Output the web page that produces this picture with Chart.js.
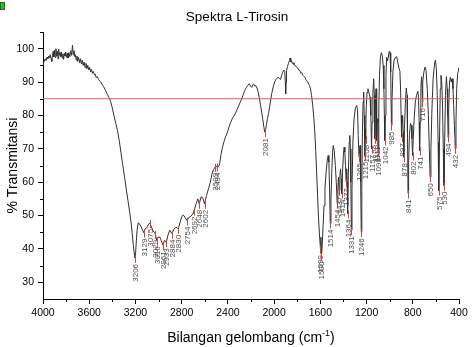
<!DOCTYPE html>
<html>
<head>
<meta charset="utf-8">
<script src="https://cdn.jsdelivr.net/npm/chart.js@4.4.1/dist/chart.umd.min.js"></script>
<style>
  html, body { margin: 0; padding: 0; background: #fff; }
  #wrap { width: 474px; height: 347px; }
</style>
</head>
<body>
<div id="wrap"><canvas id="chart" width="474" height="347"></canvas></div>
<script>
// FTIR spectrum of L-tyrosine
const wavenumber = [
  4000, 3990, 3980, 3972, 3965, 3958, 3950, 3944, 3938, 3930, 3924, 3918, 3912, 3906, 3900, 3894,
  3888, 3882, 3876, 3870, 3864, 3858, 3852, 3846, 3840, 3834, 3828, 3822, 3816, 3810, 3804, 3798,
  3790, 3784, 3776, 3768, 3760, 3752, 3745, 3738, 3732, 3726, 3720, 3712, 3706, 3700, 3692, 3684,
  3676, 3668, 3660, 3652, 3644, 3636, 3628, 3620, 3612, 3604, 3596, 3588, 3580, 3572, 3564, 3556,
  3548, 3540, 3530, 3520, 3505, 3490, 3475, 3460, 3445, 3430, 3415, 3400, 3385, 3370, 3355, 3340,
  3325, 3310, 3295, 3280, 3265, 3250, 3238, 3228, 3218, 3206, 3200, 3194, 3186, 3176, 3166, 3150,
  3138, 3129, 3118, 3105, 3090, 3075, 3062, 3048, 3036, 3029, 3016, 3005, 2990, 2975, 2961, 2948,
  2933, 2918, 2903, 2884, 2866, 2850, 2840, 2830, 2815, 2800, 2786, 2770, 2754, 2738, 2720, 2705,
  2692, 2676, 2660, 2648, 2632, 2618, 2602, 2585, 2568, 2552, 2538, 2524, 2509, 2494, 2480, 2470,
  2460, 2450, 2435, 2420, 2405, 2390, 2375, 2360, 2345, 2330, 2315, 2300, 2285, 2270, 2255, 2240,
  2228, 2215, 2205, 2194, 2186, 2178, 2168, 2157, 2148, 2138, 2128, 2118, 2108, 2098, 2088, 2081,
  2074, 2066, 2058, 2048, 2038, 2028, 2018, 2006, 1994, 1980, 1966, 1952, 1944, 1936, 1926, 1916,
  1908, 1903, 1900, 1897, 1893, 1884, 1876, 1868, 1862, 1856, 1850, 1843, 1836, 1828, 1820, 1812,
  1804, 1795, 1786, 1776, 1768, 1760, 1752, 1744, 1735, 1726, 1718, 1710, 1702, 1694, 1686, 1676,
  1666, 1656, 1648, 1640, 1632, 1624, 1616, 1608, 1599, 1595, 1590, 1584, 1576, 1568, 1560, 1550,
  1540, 1532, 1526, 1520, 1514, 1508, 1500, 1494, 1488, 1480, 1470, 1462, 1454, 1448, 1443, 1437,
  1431, 1425, 1419, 1414, 1408, 1400, 1394, 1388, 1382, 1377, 1372, 1368, 1364, 1358, 1350, 1345,
  1340, 1336, 1331, 1326, 1318, 1308, 1296, 1285, 1278, 1272, 1265, 1260, 1256, 1251, 1246, 1241,
  1236, 1230, 1225, 1220, 1215, 1212, 1208, 1203, 1196, 1188, 1180, 1170, 1163, 1157, 1152, 1145,
  1138, 1133, 1128, 1123, 1118, 1114, 1111, 1106, 1102, 1099, 1094, 1088, 1080, 1072, 1064, 1056,
  1050, 1046, 1042, 1038, 1032, 1026, 1018, 1010, 1004, 997, 991, 985, 980, 972, 962, 950,
  940, 930, 920, 911, 905, 901, 897, 893, 888, 883, 878, 872, 864, 856, 850, 846,
  841, 836, 829, 820, 812, 807, 802, 796, 788, 778, 768, 756, 750, 745, 741, 736,
  730, 724, 719, 716, 712, 704, 694, 685, 675, 665, 657, 650, 643, 634, 624, 612,
  604, 596, 588, 581, 575, 569, 562, 556, 549, 542, 536, 530, 524, 517, 509, 502,
  498, 494, 489, 482, 474, 467, 460, 452, 446, 440, 432, 426, 420, 412, 406, 400
]
const transmittance = [
  95.0, 96.2, 97.0, 96.4, 97.5, 97.0, 97.8, 97.2, 98.2, 97.0, 96.2, 98.0, 99.2, 97.5, 99.6, 97.4,
  100.0, 97.8, 99.2, 97.0, 99.8, 98.0, 98.8, 97.6, 99.0, 97.2, 98.4, 96.8, 98.6, 97.8, 99.0, 97.4,
  98.6, 97.2, 98.8, 97.6, 99.4, 98.0, 101.0, 98.2, 99.4, 97.6, 98.2, 96.6, 97.8, 96.2, 97.4, 95.8,
  97.0, 95.4, 96.6, 95.0, 96.0, 94.4, 95.6, 94.0, 95.0, 93.6, 94.4, 93.0, 93.8, 92.6, 93.2, 92.2,
  92.4, 91.4, 91.6, 90.8, 90.2, 89.4, 88.6, 87.6, 86.4, 85.4, 84.2, 82.2, 79.8, 77.6, 75.4, 72.4,
  68.8, 65.2, 61.8, 58.0, 54.6, 51.0, 48.0, 44.6, 41.0, 37.3, 37.8, 41.5, 45.5, 47.8, 47.6, 46.6,
  45.6, 44.9, 46.0, 46.2, 47.2, 47.8, 46.6, 45.4, 45.0, 44.5, 42.6, 43.4, 43.6, 42.4, 41.1, 42.6,
  42.0, 44.2, 45.6, 44.6, 46.0, 46.5, 46.4, 46.0, 47.8, 49.6, 50.2, 49.4, 48.5, 49.4, 49.8, 50.4,
  51.5, 53.4, 55.0, 53.5, 55.6, 55.4, 53.5, 56.0, 58.0, 60.0, 62.4, 63.8, 64.6, 64.7, 64.6, 65.8,
  68.2, 70.0, 72.0, 73.6, 74.8, 76.6, 78.0, 79.2, 80.0, 81.0, 82.2, 83.4, 84.6, 86.0, 87.4, 88.4,
  89.0, 89.5, 88.8, 88.4, 89.2, 89.4, 88.8, 88.9, 88.2, 87.0, 85.2, 83.2, 81.0, 78.8, 76.4, 75.0,
  75.6, 77.2, 79.0, 80.6, 82.8, 85.0, 87.0, 88.8, 90.2, 91.0, 91.4, 91.0, 90.8, 92.0, 92.9, 93.6,
  93.2, 90.0, 86.4, 90.0, 93.4, 94.6, 95.6, 96.4, 97.2, 96.0, 96.4, 95.6, 95.8, 95.2, 95.0, 94.8,
  94.4, 94.2, 93.6, 93.4, 92.6, 92.8, 92.0, 91.8, 91.6, 90.8, 90.4, 90.2, 89.4, 89.0, 88.0, 86.0,
  83.0, 79.2, 75.0, 69.5, 63.0, 56.0, 49.5, 44.5, 40.0, 43.5, 38.0, 41.0, 47.0, 53.0, 58.0, 63.0,
  66.6, 68.0, 66.0, 58.0, 47.6, 55.0, 64.0, 69.0, 71.0, 69.5, 65.0, 60.0, 53.6, 58.0, 61.5, 57.5,
  62.0, 64.0, 61.0, 56.6, 63.0, 68.5, 70.5, 69.0, 65.0, 60.0, 64.0, 60.0, 50.6, 62.0, 72.0, 74.0,
  70.0, 60.0, 45.6, 58.0, 72.0, 79.0, 82.4, 83.0, 81.5, 74.0, 67.5, 70.0, 71.0, 60.0, 45.0, 58.0,
  75.0, 84.0, 87.0, 80.0, 68.0, 76.0, 73.0, 82.0, 87.0, 88.0, 87.0, 85.5, 80.0, 70.0, 78.0, 87.0,
  91.0, 86.0, 73.0, 84.0, 88.0, 82.0, 72.5, 79.0, 78.0, 69.0, 82.0, 92.0, 97.5, 98.8, 98.0, 95.0,
  88.0, 80.0, 72.5, 80.0, 92.0, 97.4, 96.4, 97.8, 99.3, 98.8, 93.0, 77.0, 84.0, 93.0, 96.6, 97.4,
  97.6, 96.0, 94.2, 93.2, 87.0, 80.0, 73.5, 78.0, 80.0, 75.0, 67.5, 76.0, 84.0, 88.2, 86.0, 75.0,
  56.6, 66.0, 74.0, 77.6, 77.0, 73.0, 68.0, 73.0, 79.0, 84.0, 86.0, 87.2, 85.0, 78.0, 69.5, 78.0,
  88.0, 91.6, 88.0, 84.0, 90.0, 93.0, 94.5, 93.5, 88.0, 80.0, 70.0, 61.5, 70.0, 82.0, 91.0, 95.4,
  96.6, 94.0, 86.0, 72.0, 57.5, 72.0, 88.0, 92.0, 90.0, 82.0, 70.0, 59.0, 72.0, 86.0, 91.6, 88.0,
  80.0, 73.4, 82.0, 90.0, 91.4, 90.0, 91.0, 88.0, 83.0, 77.0, 70.0, 78.0, 88.0, 92.6, 93.2, 94.4
]

// labelled peaks
const peaks = [
  3206, 3129, 3075, 3029, 3016, 2961, 2933, 2884, 2830, 2754, 2692, 2648, 2602, 2509, 2494,
  2081, 1599, 1590, 1514, 1454, 1437, 1414, 1377, 1364, 1331, 1265, 1246, 1215, 1208, 1157,
  1128, 1111, 1099, 1042, 985, 897, 878, 841, 802, 741, 716, 650, 575, 530, 494, 432
]

const refWn = [4000, 400]
const refT = [85, 85]

const xTicks = [4000, 3600, 3200, 2800, 2400, 2000, 1600, 1200, 800, 400]
const yTicks = [30, 40, 50, 60, 70, 80, 90, 100]

const FONT = '"Liberation Sans", Arial, sans-serif'

const spectrum = wavenumber.map((w, i) => ({ x: w, y: transmittance[i] }))
const refLine = refWn.map((w, i) => ({ x: w, y: refT[i] }))

const decor = {
  id: 'decor',
  afterDraw(chart) {
    const { ctx, chartArea: a, scales: { x, y } } = chart
    ctx.save()

    // minor ticks
    ctx.strokeStyle = '#000'
    ctx.lineWidth = 1
    ctx.beginPath()
    for (let v = 3800; v > 400; v -= 400) {
      const px = Math.round(x.getPixelForValue(v)) + 0.5
      ctx.moveTo(px, a.bottom)
      ctx.lineTo(px, a.bottom + 3)
    }
    for (let v = 35; v <= 105; v += 10) {
      const py = Math.round(y.getPixelForValue(v)) + 0.5
      ctx.moveTo(a.left - 3, py)
      ctx.lineTo(a.left, py)
    }
    ctx.stroke()

    // peak markers + labels
    ctx.font = '8px ' + FONT
    peaks.forEach(w => {
      const t = transmittance[wavenumber.indexOf(w)]
      const px = Math.round(x.getPixelForValue(w)) + 0.5
      const py = y.getPixelForValue(t)
      ctx.strokeStyle = '#e23a3a'
      ctx.beginPath()
      ctx.moveTo(px, py - 3)
      ctx.lineTo(px, py + 5)
      ctx.stroke()
      ctx.save()
      ctx.translate(px, py + 6)
      ctx.rotate(-Math.PI / 2)
      ctx.fillStyle = '#505050'
      ctx.textAlign = 'right'
      ctx.textBaseline = 'middle'
      ctx.fillText(String(w), 0, 0)
      ctx.restore()
    })

    // chart title
    ctx.fillStyle = '#000'
    ctx.textAlign = 'center'
    ctx.textBaseline = 'alphabetic'
    ctx.font = '13.5px ' + FONT
    ctx.fillText('Spektra L-Tirosin', 237, 21)

    // x axis title with superscript
    ctx.font = '14px ' + FONT
    const t1 = 'Bilangan gelombang (cm'
    const t3 = ')'
    const w1 = ctx.measureText(t1).width
    const w3 = ctx.measureText(t3).width
    ctx.font = '9px ' + FONT
    const w2 = ctx.measureText('-1').width
    const cx = (a.left + a.right) / 2
    let sx = cx - (w1 + w2 + w3) / 2
    ctx.textAlign = 'left'
    ctx.font = '14px ' + FONT
    ctx.fillText(t1, sx, 341.5)
    ctx.font = '9px ' + FONT
    ctx.fillText('-1', sx + w1, 336)
    ctx.font = '14px ' + FONT
    ctx.fillText(t3, sx + w1 + w2, 341.5)

    // y axis title
    ctx.save()
    ctx.translate(13, (a.top + a.bottom) / 2)
    ctx.rotate(-Math.PI / 2)
    ctx.textAlign = 'center'
    ctx.textBaseline = 'middle'
    ctx.fillText('% Transmitansi', 0, 0)
    ctx.restore()

    // little green icon in the corner
    ctx.fillStyle = '#35b535'
    ctx.fillRect(0, 2, 5, 8)
    ctx.strokeStyle = '#1d6b1d'
    ctx.strokeRect(0.5, 2.5, 4, 7)

    ctx.restore()
  }
}

new Chart(document.getElementById('chart'), {
  type: 'line',
  data: {
    datasets: [
      { data: refLine, borderColor: '#e25a5e', borderWidth: 1, pointRadius: 0, tension: 0 },
      { data: spectrum, borderColor: '#303030', borderWidth: 1, pointRadius: 0, tension: 0 }
    ]
  },
  options: {
    responsive: false,
    animation: false,
    events: [],
    layout: { padding: { top: 32, right: 15, left: 0, bottom: 0 } },
    plugins: { legend: { display: false }, tooltip: { enabled: false }, title: { display: false } },
    scales: {
      x: {
        type: 'linear',
        reverse: true,
        min: 400,
        max: 4000,
        afterBuildTicks: s => { s.ticks = xTicks.map(v => ({ value: v })) },
        afterFit: s => { s.height = 48 },
        grid: { drawOnChartArea: false, tickLength: 5, color: '#000' },
        border: { color: '#000' },
        ticks: { color: '#000', font: { family: FONT, size: 10.5 }, padding: 3, maxRotation: 0, autoSkip: false, callback: v => String(v) }
      },
      y: {
        min: 25,
        max: 105,
        afterBuildTicks: s => { s.ticks = yTicks.map(v => ({ value: v })) },
        afterFit: s => { s.width = 43 },
        grid: { drawOnChartArea: false, tickLength: 5, color: '#000' },
        border: { color: '#000' },
        ticks: { color: '#000', font: { family: FONT, size: 10.5 }, padding: 4, callback: v => String(v) }
      }
    }
  },
  plugins: [decor]
})
</script>
</body>
</html>
